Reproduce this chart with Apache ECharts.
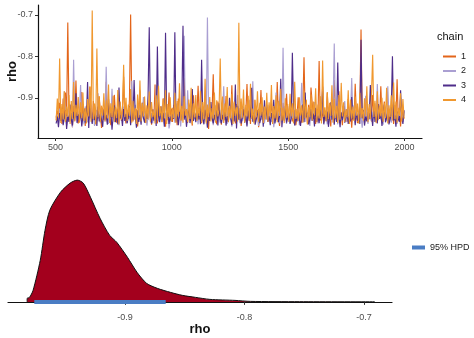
<!DOCTYPE html>
<html>
<head>
<meta charset="utf-8">
<script src="https://cdn.jsdelivr.net/npm/echarts@6/dist/echarts.min.js"></script>
<style>html,body{margin:0;padding:0;background:#fff}#c{width:474px;height:338px}</style>
</head>
<body>
<div id="c"></div>
<script>
// ---- Trace data (thinned: every 5th iteration, starting at 503) ----
const iterStart = 503, iterStep = 5;
const chain1 = [
-0.948,-0.931,-0.957,-0.912,-0.939,-0.963,-0.902,-0.951,-0.887,-0.944,-0.718,-0.928,-0.955,-0.936,-0.971,-0.919,-0.947,-0.858,-0.940,-0.962,
-0.927,-0.944,-0.886,-0.955,-0.933,-0.968,-0.919,-0.941,-0.952,-0.874,-0.937,-0.958,-0.908,-0.946,-0.964,-0.929,-0.950,-0.897,-0.935,-0.973,
-0.924,-0.953,-0.940,-0.861,-0.957,-0.918,-0.945,-0.966,-0.932,-0.950,-0.893,-0.939,-0.960,-0.926,-0.948,-0.913,-0.955,-0.937,-0.849,-0.943,
-0.962,-0.930,-0.951,-0.904,-0.699,-0.922,-0.957,-0.936,-0.949,-0.928,-0.969,-0.941,-0.882,-0.954,-0.933,-0.947,-0.916,-0.961,-0.938,-0.953,
-0.912,-0.944,-0.965,-0.929,-0.951,-0.868,-0.938,-0.962,-0.924,-0.947,-0.935,-0.958,-0.901,-0.942,-0.970,-0.931,-0.954,-0.887,-0.946,-0.926,
-0.958,-0.917,-0.943,-0.929,-0.966,-0.902,-0.945,-0.937,-0.955,-0.921,-0.852,-0.948,-0.934,-0.960,-0.913,-0.951,-0.939,-0.967,-0.894,-0.944,
-0.948,-0.934,-0.871,-0.952,-0.939,-0.961,-0.926,-0.944,-0.913,-0.957,-0.936,-0.975,-0.920,-0.949,-0.931,-0.843,-0.953,-0.941,-0.964,-0.909,
-0.931,-0.946,-0.965,-0.918,-0.941,-0.953,-0.896,-0.936,-0.959,-0.928,-0.947,-0.870,-0.955,-0.934,-0.962,-0.915,-0.943,-0.951,-0.925,-0.968,
-0.947,-0.924,-0.955,-0.938,-0.867,-0.949,-0.932,-0.963,-0.915,-0.943,-0.905,-0.957,-0.940,-0.929,-0.971,-0.946,-0.881,-0.952,-0.937,-0.919,
-0.951,-0.927,-0.958,-0.935,-0.944,-0.906,-0.961,-0.939,-0.922,-0.953,-0.862,-0.945,-0.968,-0.931,-0.948,-0.912,-0.956,-0.938,-0.890,-0.947,
-0.936,-0.948,-0.919,-0.957,-0.942,-0.929,-0.966,-0.945,-0.899,-0.951,-0.934,-0.960,-0.921,-0.802,-0.946,-0.933,-0.964,-0.917,-0.950,-0.875,
-0.911,-0.951,-0.938,-0.963,-0.927,-0.945,-0.811,-0.955,-0.926,-0.943,-0.960,-0.931,-0.947,-0.888,-0.953,-0.939,-0.969,-0.918,-0.944,-0.857,
-0.924,-0.956,-0.937,-0.884,-0.952,-0.940,-0.966,-0.918,-0.945,-0.932,-0.958,-0.903,-0.949,-0.935,-0.972,-0.928,-0.954,-0.866,-0.941,-0.961,
-0.958,-0.923,-0.735,-0.949,-0.936,-0.962,-0.914,-0.944,-0.953,-0.929,-0.941,-0.957,-0.893,-0.935,-0.948,-0.925,-0.960,-0.939,-0.951,-0.872,
-0.941,-0.957,-0.909,-0.935,-0.948,-0.925,-0.960,-0.939,-0.951,-0.930,-0.963,-0.918,-0.946,-0.855,-0.954,-0.937,-0.969,-0.926,-0.943,-0.950];
const chain2 = [
-0.953,-0.940,-0.962,-0.926,-0.947,-0.935,-0.958,-0.884,-0.931,-0.966,-0.944,-0.918,-0.955,-0.937,-0.971,-0.808,-0.949,-0.904,-0.958,-0.941,
-0.933,-0.869,-0.952,-0.938,-0.964,-0.921,-0.946,-0.959,-0.934,-0.948,-0.916,-0.956,-0.942,-0.968,-0.930,-0.953,-0.889,-0.945,-0.961,-0.927,
-0.950,-0.936,-0.957,-0.825,-0.944,-0.963,-0.932,-0.951,-0.878,-0.940,-0.959,-0.925,-0.947,-0.934,-0.966,-0.911,-0.938,-0.955,-0.921,-0.949,
-0.936,-0.962,-0.928,-0.945,-0.957,-0.859,-0.941,-0.953,-0.917,-0.964,-0.939,-0.950,-0.926,-0.958,-0.943,-0.898,-0.955,-0.932,-0.967,-0.946,
-0.923,-0.954,-0.937,-0.961,-0.929,-0.948,-0.870,-0.942,-0.957,-0.933,-0.952,-0.919,-0.945,-0.963,-0.936,-0.951,-0.927,-0.974,-0.958,-0.940,
-0.947,-0.931,-0.960,-0.914,-0.944,-0.955,-0.938,-0.969,-0.925,-0.949,-0.750,-0.937,-0.958,-0.882,-0.943,-0.953,-0.928,-0.961,-0.946,-0.934,
-0.951,-0.939,-0.964,-0.922,-0.947,-0.956,-0.931,-0.943,-0.908,-0.959,-0.706,-0.942,-0.926,-0.953,-0.937,-0.966,-0.944,-0.918,-0.955,-0.933,
-0.948,-0.960,-0.929,-0.945,-0.872,-0.952,-0.938,-0.963,-0.924,-0.947,-0.935,-0.970,-0.912,-0.950,-0.941,-0.957,-0.893,-0.944,-0.961,-0.930,
-0.956,-0.921,-0.943,-0.934,-0.965,-0.946,-0.905,-0.952,-0.939,-0.860,-0.958,-0.928,-0.949,-0.937,-0.968,-0.915,-0.954,-0.942,-0.926,-0.962,
-0.940,-0.953,-0.917,-0.945,-0.929,-0.958,-0.936,-0.971,-0.948,-0.887,-0.952,-0.933,-0.961,-0.924,-0.946,-0.779,-0.955,-0.938,-0.963,-0.920,
-0.944,-0.957,-0.931,-0.949,-0.902,-0.960,-0.937,-0.953,-0.926,-0.966,-0.941,-0.864,-0.950,-0.934,-0.958,-0.919,-0.947,-0.939,-0.968,-0.928,
-0.955,-0.942,-0.910,-0.948,-0.936,-0.962,-0.927,-0.951,-0.940,-0.881,-0.957,-0.932,-0.946,-0.964,-0.923,-0.953,-0.938,-0.959,-0.915,-0.769,
-0.951,-0.939,-0.964,-0.922,-0.947,-0.956,-0.931,-0.943,-0.908,-0.959,-0.942,-0.926,-0.953,-0.937,-0.852,-0.944,-0.918,-0.955,-0.933,-0.948,
-0.960,-0.929,-0.945,-0.972,-0.938,-0.952,-0.895,-0.947,-0.963,-0.924,-0.941,-0.956,-0.934,-0.949,-0.913,-0.958,-0.867,-0.943,-0.930,-0.952,
-0.937,-0.965,-0.926,-0.946,-0.955,-0.872,-0.944,-0.931,-0.960,-0.938,-0.951,-0.919,-0.947,-0.963,-0.935,-0.954,-0.900,-0.942,-0.958,-0.933];
const chain3 = [
-0.962,-0.945,-0.971,-0.937,-0.956,-0.924,-0.966,-0.949,-0.930,-0.975,-0.943,-0.958,-0.916,-0.952,-0.967,-0.934,-0.955,-0.889,-0.961,-0.940,
-0.957,-0.932,-0.969,-0.946,-0.926,-0.960,-0.951,-0.862,-0.973,-0.911,-0.948,-0.963,-0.935,-0.954,-0.942,-0.968,-0.921,-0.957,-0.939,-0.952,
-0.970,-0.928,-0.954,-0.941,-0.965,-0.903,-0.949,-0.936,-0.977,-0.945,-0.918,-0.959,-0.933,-0.964,-0.875,-0.950,-0.942,-0.968,-0.927,-0.956,
-0.939,-0.961,-0.947,-0.920,-0.966,-0.935,-0.953,-0.857,-0.944,-0.972,-0.930,-0.958,-0.941,-0.965,-0.912,-0.949,-0.960,-0.936,-0.951,-0.893,
-0.730,-0.947,-0.962,-0.928,-0.955,-0.939,-0.968,-0.776,-0.944,-0.959,-0.921,-0.953,-0.936,-0.970,-0.743,-0.948,-0.931,-0.963,-0.945,-0.957,
-0.927,-0.951,-0.742,-0.958,-0.940,-0.966,-0.934,-0.953,-0.918,-0.726,-0.953,-0.932,-0.970,-0.945,-0.917,-0.961,-0.944,-0.879,-0.956,-0.938,
-0.959,-0.938,-0.952,-0.925,-0.964,-0.808,-0.951,-0.964,-0.929,-0.947,-0.972,-0.935,-0.956,-0.910,-0.949,-0.962,-0.941,-0.955,-0.926,-0.967,
-0.913,-0.949,-0.962,-0.941,-0.955,-0.926,-0.967,-0.944,-0.958,-0.900,-0.950,-0.966,-0.933,-0.957,-0.868,-0.974,-0.919,-0.953,-0.939,-0.962,
-0.947,-0.928,-0.960,-0.943,-0.969,-0.931,-0.955,-0.945,-0.876,-0.958,-0.936,-0.965,-0.952,-0.940,-0.927,-0.961,-0.948,-0.934,-0.970,-0.906,
-0.951,-0.922,-0.957,-0.944,-0.966,-0.937,-0.953,-0.905,-0.962,-0.946,-0.931,-0.959,-0.943,-0.854,-0.971,-0.935,-0.954,-0.920,-0.960,-0.948,
-0.939,-0.963,-0.950,-0.791,-0.929,-0.967,-0.945,-0.957,-0.934,-0.952,-0.968,-0.941,-0.916,-0.959,-0.887,-0.947,-0.936,-0.964,-0.952,-0.927,
-0.955,-0.938,-0.969,-0.924,-0.958,-0.943,-0.961,-0.930,-0.950,-0.873,-0.964,-0.940,-0.956,-0.933,-0.970,-0.947,-0.911,-0.953,-0.942,-0.965,
-0.931,-0.958,-0.815,-0.943,-0.971,-0.935,-0.954,-0.920,-0.960,-0.948,-0.927,-0.963,-0.944,-0.957,-0.898,-0.952,-0.938,-0.966,-0.929,-0.955,
-0.939,-0.963,-0.760,-0.950,-0.929,-0.967,-0.945,-0.957,-0.934,-0.952,-0.869,-0.941,-0.968,-0.925,-0.958,-0.944,-0.962,-0.915,-0.951,-0.937,
-0.968,-0.941,-0.916,-0.959,-0.947,-0.936,-0.964,-0.952,-0.927,-0.800,-0.955,-0.942,-0.970,-0.933,-0.951,-0.958,-0.882,-0.946,-0.963,-0.930];
const chain4 = [
-0.955,-0.902,-0.948,-0.805,-0.961,-0.915,-0.952,-0.884,-0.958,-0.921,-0.946,-0.893,-0.963,-0.908,-0.951,-0.862,-0.957,-0.917,-0.944,-0.898,
-0.960,-0.911,-0.949,-0.887,-0.956,-0.925,-0.962,-0.903,-0.945,-0.872,-0.958,-0.689,-0.951,-0.914,-0.963,-0.781,-0.947,-0.896,-0.959,-0.919,
-0.943,-0.889,-0.957,-0.906,-0.950,-0.868,-0.961,-0.913,-0.946,-0.895,-0.958,-0.922,-0.949,-0.881,-0.964,-0.909,-0.953,-0.926,-0.820,-0.947,
-0.900,-0.956,-0.916,-0.944,-0.879,-0.960,-0.907,-0.952,-0.924,-0.963,-0.892,-0.948,-0.858,-0.957,-0.912,-0.945,-0.897,-0.961,-0.918,-0.950,
-0.885,-0.958,-0.910,-0.947,-0.929,-0.962,-0.894,-0.953,-0.871,-0.944,-0.920,-0.959,-0.903,-0.950,-0.882,-0.963,-0.915,-0.946,-0.899,-0.957,
-0.924,-0.949,-0.888,-0.961,-0.908,-0.945,-0.865,-0.955,-0.919,-0.960,-0.896,-0.943,-0.927,-0.958,-0.904,-0.951,-0.876,-0.964,-0.913,-0.948,
-0.893,-0.956,-0.921,-0.944,-0.883,-0.959,-0.910,-0.951,-0.854,-0.962,-0.916,-0.947,-0.898,-0.957,-0.925,-0.950,-0.887,-0.960,-0.906,-0.945,
-0.928,-0.805,-0.953,-0.897,-0.961,-0.914,-0.946,-0.874,-0.958,-0.919,-0.950,-0.891,-0.963,-0.909,-0.944,-0.923,-0.957,-0.719,-0.952,-0.902,
-0.948,-0.880,-0.960,-0.917,-0.945,-0.895,-0.956,-0.866,-0.951,-0.926,-0.962,-0.905,-0.947,-0.884,-0.958,-0.912,-0.943,-0.899,-0.961,-0.921,
-0.952,-0.888,-0.957,-0.911,-0.946,-0.869,-0.963,-0.920,-0.950,-0.894,-0.959,-0.907,-0.944,-0.878,-0.955,-0.924,-0.961,-0.901,-0.948,-0.915,
-0.958,-0.890,-0.945,-0.913,-0.962,-0.861,-0.951,-0.927,-0.956,-0.899,-0.943,-0.918,-0.960,-0.883,-0.949,-0.905,-0.964,-0.922,-0.947,-0.892,
-0.955,-0.909,-0.942,-0.877,-0.959,-0.916,-0.950,-0.896,-0.962,-0.810,-0.946,-0.923,-0.957,-0.886,-0.951,-0.912,-0.944,-0.870,-0.960,-0.903,
-0.949,-0.919,-0.961,-0.893,-0.953,-0.864,-0.945,-0.911,-0.958,-0.928,-0.947,-0.882,-0.963,-0.904,-0.950,-0.921,-0.956,-0.897,-0.943,-0.914,
-0.962,-0.888,-0.948,-0.925,-0.955,-0.901,-0.944,-0.872,-0.959,-0.915,-0.951,-0.892,-0.796,-0.946,-0.907,-0.961,-0.884,-0.953,-0.919,-0.945,
-0.900,-0.958,-0.912,-0.949,-0.876,-0.962,-0.918,-0.946,-0.894,-0.955,-0.863,-0.951,-0.909,-0.960,-0.924,-0.944,-0.889,-0.957,-0.903,-0.950];
const chainNames = ['1', '2', '3', '4'];
const iterTicks = [500, 1000, 1500, 2000];
const rhoTicks = [-0.9, -0.8, -0.7];

// ---- Density of rho ----
const densX = [-0.982,-0.982,-0.980,-0.977,-0.971,-0.967,-0.963,-0.954,-0.946,-0.940,-0.935,-0.929,-0.921,-0.913,-0.907,-0.898,-0.890,-0.882,-0.873,-0.862,-0.852,-0.841,-0.829,-0.808,-0.795,-0.754,-0.691];
const densY = [0,0.35,0.45,1.15,4.15,7.15,9.15,10.95,11.85,12.15,11.85,10.45,8.35,6.65,5.95,4.45,2.95,1.85,1.35,0.95,0.65,0.45,0.25,0.15,0.05,0.02,0.01];
const hpd = [-0.976, -0.866];
const hpdLabel = '95% HPD';

const colors = ['#e3651a', '#aa9fd2', '#4f2d8a', '#f0982f'];
const chains = [chain1, chain2, chain3, chain4];
const font = 'Liberation Sans, Arial, Helvetica, sans-serif';
const tickLbl = { color: '#4d4d4d', fontSize: 9, fontFamily: font };

const chart = echarts.init(document.getElementById('c'), null, { renderer: 'canvas' });
const traceSeries = chains.map((arr, k) => ({
  name: chainNames[k], type: 'line', xAxisIndex: 0, yAxisIndex: 0,
  showSymbol: false, symbol: 'none', animation: false,
  lineStyle: { color: colors[k], width: 1.15 }, itemStyle: { color: colors[k] },
  data: arr.map((v, i) => [iterStart + iterStep * i, v])
}));

chart.setOption({
  animation: false,
  textStyle: { fontFamily: font },
  grid: [
    { left: 38, right: 52, top: 5, bottom: 200, containLabel: false, outerBoundsMode: 'none' },
    { left: 8, right: 82, top: 174, bottom: 30, containLabel: false, outerBoundsMode: 'none' }
  ],
  legend: [
    { data: chainNames, orient: 'vertical', left: 438, top: 47, itemWidth: 13, itemHeight: 2,
      icon: 'rect', itemGap: 5.5, textStyle: { color: '#222', fontSize: 9, fontFamily: font }, selectedMode: false },
    { data: [hpdLabel], orient: 'vertical', left: 407, top: 238, itemWidth: 13, itemHeight: 4,
      icon: 'rect', textStyle: { color: '#222', fontSize: 9, fontFamily: font }, selectedMode: false }
  ],
  graphic: [
    { type: 'text', left: 437, top: 31, style: { text: 'chain', font: '11px ' + font, fill: '#111' } }
  ],
  xAxis: [
    { gridIndex: 0, type: 'value', min: 425, max: 2075,
      axisLine: { lineStyle: { color: '#111', width: 1.2 } },
      axisTick: { customValues: iterTicks, length: 3, lineStyle: { color: '#333' } },
      axisLabel: { customValues: iterTicks, ...tickLbl, margin: 5, formatter: v => String(v) },
      splitLine: { show: false } },
    { gridIndex: 1, type: 'value', min: -0.998, max: -0.6766,
      name: 'rho', nameLocation: 'middle', nameGap: 15, nameMoveOverlap: false,
      nameTextStyle: { fontSize: 13, fontWeight: 'bold', color: '#111', fontFamily: font },
      axisLine: { lineStyle: { color: '#111', width: 1.2 } },
      axisTick: { customValues: rhoTicks, length: 3, lineStyle: { color: '#333' } },
      axisLabel: { customValues: rhoTicks, ...tickLbl, margin: 5, formatter: v => v.toFixed(1) },
      splitLine: { show: false } }
  ],
  yAxis: [
    { gridIndex: 0, type: 'value', min: -0.997, max: -0.676,
      name: 'rho', nameLocation: 'middle', nameGap: 19, nameRotate: 90, nameMoveOverlap: false,
      nameTextStyle: { fontSize: 13, fontWeight: 'bold', color: '#111', fontFamily: font },
      axisLine: { show: true, lineStyle: { color: '#111', width: 1.2 } },
      axisTick: { show: true, customValues: rhoTicks, length: 3, lineStyle: { color: '#333' } },
      axisLabel: { customValues: rhoTicks, ...tickLbl, margin: 5, formatter: v => v.toFixed(1) },
      splitLine: { show: false } },
    { gridIndex: 1, type: 'value', min: -0.61, max: 12.76, show: false, splitLine: { show: false } }
  ],
  series: [
    ...traceSeries,
    { name: 'density', type: 'line', xAxisIndex: 1, yAxisIndex: 1, showSymbol: false, symbol: 'none',
      smooth: 0.25, data: densX.map((x, i) => [x, densY[i]]),
      lineStyle: { color: '#111', width: 1 },
      areaStyle: { color: '#a3001d', opacity: 1, origin: 0 }, z: 2 },
    { name: hpdLabel, type: 'line', xAxisIndex: 1, yAxisIndex: 1, showSymbol: false, symbol: 'none',
      data: hpd.map(x => [x, 0]), lineStyle: { color: '#4a7dc4', width: 4, cap: 'butt' },
      itemStyle: { color: '#4a7dc4' }, z: 3 }
  ]
});
</script>
</body>
</html>
